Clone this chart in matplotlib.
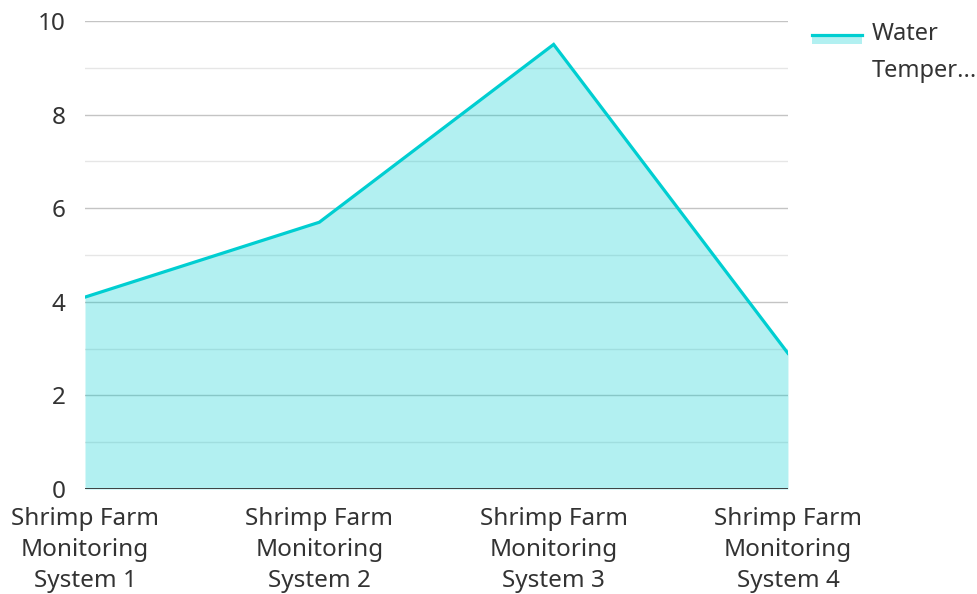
import matplotlib.pyplot as plt
from matplotlib.lines import Line2D
from matplotlib.patches import Rectangle

plt.rcParams['font.family'] = ['Noto Sans', 'DejaVu Sans']

# data
systems = ['Shrimp Farm\nMonitoring\nSystem 1', 'Shrimp Farm\nMonitoring\nSystem 2',
           'Shrimp Farm\nMonitoring\nSystem 3', 'Shrimp Farm\nMonitoring\nSystem 4']
water_temp = [4.1, 5.7, 9.5, 2.9]
y_ticks = [0, 2, 4, 6, 8, 10]
y_minor = [1, 3, 5, 7, 9]

line_col = '#00CED1'
fill_col = '#00CED1'
txt_col = '#333333'
fs = 17.5

fig = plt.figure(figsize=(9.77, 5.94), dpi=100)
ax = fig.add_axes([0.087, 0.1768, 0.7195, 0.7878])

x = list(range(len(systems)))
ax.fill_between(x, 0, water_temp, color=fill_col, alpha=0.3, lw=0, zorder=3)
ax.plot(x, water_temp, color=line_col, lw=2.3, zorder=4, solid_joinstyle='miter')

for v in y_minor:
    ax.axhline(v, color='#e6e6e6', lw=1, zorder=1)
for v in y_ticks[1:]:
    ax.axhline(v, color='#c4c4c4', lw=1, zorder=1)
ax.axhline(0, color='#333333', lw=1.3, zorder=5)

ax.set_xlim(0, len(systems) - 1)
ax.set_ylim(0, 10)
ax.set_yticks(y_ticks)
ax.set_xticks(x)
ax.set_xticklabels(systems, linespacing=1.4)
ax.tick_params(axis='both', length=0, labelsize=fs, colors=txt_col)
ax.tick_params(axis='y', pad=14)
ax.tick_params(axis='x', pad=13)
for s in ax.spines.values():
    s.set_visible(False)

# legend drawn by hand
fig.add_artist(Rectangle((812 / 977, 1 - 44 / 594), 50 / 977, 10 / 594,
                         transform=fig.transFigure, color=fill_col, alpha=0.3, lw=0))
fig.add_artist(Line2D([812 / 977, 862 / 977], [1 - 35 / 594, 1 - 35 / 594],
                      transform=fig.transFigure, color=line_col, lw=2.3))
fig.text(872 / 977, 1 - 22 / 594, 'Water\nTemper...', fontsize=17, color=txt_col,
         va='top', ha='left', linespacing=1.7)

fig.savefig('out.png', dpi=100)
